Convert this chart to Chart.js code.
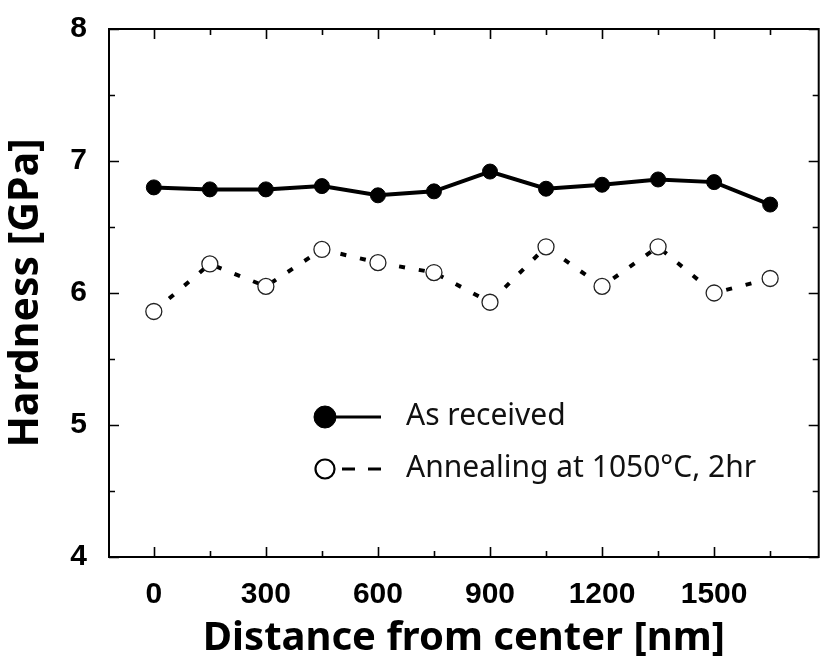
<!DOCTYPE html>
<html>
<head>
<meta charset="utf-8">
<script src="https://cdn.jsdelivr.net/npm/chart.js@4.4.1/dist/chart.umd.min.js"></script>
<style>
  html, body { margin: 0; padding: 0; background: #fff; }
  #wrap { width: 828px; height: 663px; }
</style>
</head>
<body>
<div id="wrap"><canvas id="chart" width="828" height="663"></canvas></div>
<script>
// distance from center in nm
const distances = [0, 150, 300, 450, 600, 750, 900, 1050, 1200, 1350, 1500, 1650];
const asReceived = [6.80, 6.785, 6.785, 6.81, 6.74, 6.77, 6.92, 6.79, 6.82, 6.86, 6.84, 6.67];
const annealed = [5.86, 6.22, 6.05, 6.33, 6.23, 6.155, 5.93, 6.35, 6.05, 6.35, 6.00, 6.11];

const xMajorTicks = [0, 300, 600, 900, 1200, 1500];
const xMinorTicks = [150, 450, 750, 1050, 1350, 1650];
const yMajorTicks = [4, 5, 6, 7, 8];
const yMinorTicks = [4.5, 5.5, 6.5, 7.5];

const seriesNames = ['As received', 'Annealing at 1050\u00B0C, 2hr'];

// frame on all four sides with inward ticks
const frameTicks = {
    id: 'frameTicks',
    afterDraw(chart) {
        const ctx = chart.ctx;
        const a = chart.chartArea;
        const xs = chart.scales.x, ys = chart.scales.y;
        ctx.save();
        ctx.strokeStyle = '#000';
        ctx.lineWidth = 2;
        ctx.strokeRect(a.left, a.top, a.right - a.left, a.bottom - a.top);
        ctx.lineWidth = 1.6;
        ctx.beginPath();
        const xt = xMajorTicks.map(v => [v, 10]).concat(xMinorTicks.map(v => [v, 6]));
        xt.forEach(([v, len]) => {
            const px = Math.round(xs.getPixelForValue(v)) + 0.5;
            ctx.moveTo(px, a.bottom); ctx.lineTo(px, a.bottom - len);
            ctx.moveTo(px, a.top); ctx.lineTo(px, a.top + len);
        });
        const yt = yMajorTicks.map(v => [v, 10]).concat(yMinorTicks.map(v => [v, 6]));
        yt.forEach(([v, len]) => {
            const py = Math.round(ys.getPixelForValue(v)) + 0.5;
            ctx.moveTo(a.left, py); ctx.lineTo(a.left + len, py);
            ctx.moveTo(a.right, py); ctx.lineTo(a.right - len, py);
        });
        ctx.stroke();
        ctx.restore();
    }
};

// legend drawn inside the plot area
const insideLegend = {
    id: 'insideLegend',
    afterDraw(chart) {
        const ctx = chart.ctx;
        const a = chart.chartArea;
        const x0 = a.left + 216;
        const rows = [a.top + 388, a.top + 440];
        ctx.save();
        chart.data.datasets.forEach((ds, i) => {
            const y = rows[i];
            ctx.strokeStyle = ds.borderColor;
            ctx.lineWidth = 3;
            ctx.beginPath();
            if (i === 0) {
                ctx.moveTo(x0 + 10, y);
                ctx.lineTo(x0 + 56, y);
            } else {
                ctx.moveTo(x0 + 17, y); ctx.lineTo(x0 + 30, y);
                ctx.moveTo(x0 + 43, y); ctx.lineTo(x0 + 56, y);
            }
            ctx.stroke();
            ctx.beginPath();
            ctx.arc(x0, y, i === 0 ? 11 : 9.5, 0, Math.PI * 2);
            ctx.fillStyle = ds.pointBackgroundColor;
            ctx.fill();
            ctx.lineWidth = i === 0 ? 1 : 2.2;
            ctx.strokeStyle = '#000';
            ctx.stroke();
            ctx.fillStyle = '#111';
            ctx.font = '30px "Noto Sans"';
            ctx.textBaseline = 'middle';
            ctx.fillText(ds.label, x0 + 81, y - 1);
        });
        ctx.restore();
    }
};

const tickFont = { family: '"Liberation Sans", Arial', weight: 'bold', size: 30, lineHeight: 1 };

new Chart(document.getElementById('chart'), {
    type: 'line',
    data: {
        datasets: [
            {
                label: seriesNames[0],
                data: distances.map((d, i) => ({ x: d, y: asReceived[i] })),
                borderColor: '#000',
                borderWidth: 4,
                pointRadius: 7.5,
                pointBackgroundColor: '#000',
                pointBorderColor: '#000',
                pointBorderWidth: 1,
                tension: 0
            },
            {
                label: seriesNames[1],
                data: distances.map((d, i) => ({ x: d, y: annealed[i] })),
                borderColor: '#000',
                borderWidth: 4,
                borderDash: [6, 14],
                pointRadius: 8,
                pointBackgroundColor: '#fff',
                pointBorderColor: '#222',
                pointBorderWidth: 1.3,
                tension: 0
            }
        ]
    },
    options: {
        responsive: false,
        animation: false,
        devicePixelRatio: 1,
        layout: { padding: { top: 28, right: 6, left: 0, bottom: 0 } },
        plugins: {
            legend: { display: false },
            tooltip: { enabled: false }
        },
        scales: {
            x: {
                type: 'linear',
                min: -120,
                max: 1780,
                grid: { display: false },
                border: { display: false },
                afterBuildTicks: s => { s.ticks = xMajorTicks.map(v => ({ value: v })); },
                afterFit: s => { s.height = 106; },
                ticks: {
                    color: '#000',
                    padding: 15,
                    maxRotation: 0,
                    callback: v => String(v),
                    font: tickFont
                },
                title: {
                    display: true,
                    text: 'Distance from center [nm]',
                    color: '#000',
                    padding: { top: 6, bottom: 0 },
                    font: { family: '"Noto Sans"', weight: 'bold', size: 40 }
                }
            },
            y: {
                min: 4,
                max: 8,
                grid: { display: false },
                border: { display: false },
                afterBuildTicks: s => { s.ticks = yMajorTicks.map(v => ({ value: v })); },
                afterFit: s => { s.width = 109; },
                ticks: {
                    color: '#000',
                    padding: 14,
                    callback: v => String(v),
                    font: tickFont
                },
                title: {
                    display: true,
                    text: 'Hardness [GPa]',
                    color: '#000',
                    padding: { top: 2, bottom: 0 },
                    font: { family: '"Noto Sans"', weight: 'bold', size: 41 }
                }
            }
        }
    },
    plugins: [frameTicks, insideLegend]
});
</script>
</body>
</html>
